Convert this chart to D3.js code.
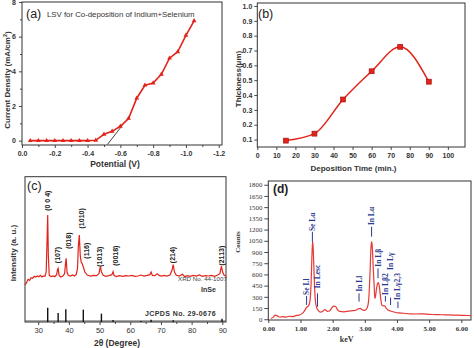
<!DOCTYPE html>
<html>
<head>
<meta charset="utf-8">
<script src="https://d3js.org/d3.v7.min.js"></script>
<style>
  body { margin: 0; background: #fff; }
  svg { display: block; font-family: "Liberation Sans", Arial, sans-serif; }
</style>
</head>
<body>
<div id="chart"></div>
<script>
// (a) linear sweep voltammetry
const lsvPotential = [-0.05, -0.1, -0.15, -0.2, -0.25, -0.3, -0.35, -0.4, -0.45, -0.5, -0.55,
  -0.6, -0.65, -0.7, -0.75, -0.8, -0.85, -0.9, -0.95, -1.0, -1.05];
const lsvCurrent = [0, 0, 0, 0, 0, 0, 0, 0, 0.02, 0.37, 0.54,
  0.83, 1.28, 2.45, 3.2, 3.32, 3.83, 4.76, 5.13, 6.08, 6.91];
const onsetPotential = [-0.522, -0.612];
const onsetCurrent = [-0.21, 0.88];
const potentialTicks = [0, -0.2, -0.4, -0.6, -0.8, -1.0, -1.2];
const currentTicks = [0, 2, 4, 6, 8];

// (b) film thickness vs deposition time
const depTime = [15, 30, 45, 60, 75, 90];
const thickness = [0.093, 0.14, 0.37, 0.56, 0.725, 0.49];
const timeTicks = [0, 10, 20, 30, 40, 50, 60, 70, 80, 90, 100];
const thicknessTicks = [0.1, 0.2, 0.3, 0.4, 0.5, 0.6, 0.7, 0.8, 0.9, 1.0];

// (c) XRD pattern
const xrdAngle = [25.7, 26.2, 26.7, 27.2, 27.7, 28.2, 28.7, 29.2, 29.7, 30.2, 30.7, 31.2, 31.7, 32.2,
  32.6, 32.9, 33.1, 33.3, 33.6, 34.2, 34.8, 35.4, 36.0, 36.3, 36.5, 36.8, 37.4, 38.0, 38.6, 38.9,
  39.1, 39.4, 39.8, 40.5, 41.2, 41.8, 42.4, 42.8, 43.1, 43.4, 43.7, 44.0, 44.3, 44.7, 45.2, 46.0,
  47.0, 48.0, 49.0, 49.8, 50.1, 50.3, 50.6, 51.2, 52.0, 53.0, 54.0, 54.4, 54.7, 55.5, 56.5, 57.5,
  58.5, 59.5, 60.5, 61.5, 62.5, 63.5, 64.5, 65.5, 66.4, 66.8, 67.2, 68.0, 68.8, 69.4, 70.2, 71.0,
  72.0, 73.0, 73.6, 74.0, 74.4, 75.0, 76.0, 77.0, 77.8, 78.5, 79.5, 80.5, 81.5, 82.5, 83.5, 84.5,
  85.5, 86.5, 87.5, 88.5, 89.2, 89.7, 90.1, 90.6, 91.2];
const xrdIntensity = [111, 118, 128, 125, 133, 131, 137, 135, 138, 136, 140, 135, 138, 137,
  150, 250, 321, 200, 140, 136, 138, 136, 142, 158, 161, 140, 135, 138, 145, 175,
  191, 150, 140, 138, 141, 138, 143, 160, 230, 261, 200, 180, 176, 165, 150, 141,
  138, 140, 139, 145, 160, 166, 150, 140, 137, 139, 142, 151, 140, 136, 139, 137,
  139, 138, 140, 137, 138, 141, 138, 140, 142, 150, 140, 139, 145, 140, 138, 140,
  138, 142, 155, 172, 150, 140, 138, 143, 136, 139, 137, 140, 138, 141, 137, 139,
  138, 140, 137, 141, 145, 168, 150, 140, 138];
const refAngle = [33.1, 36.5, 39.0, 44.7, 50.6, 54.4, 63.5, 66.8, 74.0, 89.9];
const refHeight = [43, 27, 38, 37, 25, 6, 3, 7, 5, 10];
const hklLabels = ["(0 0 4)", "(107)", "(018)", "(1010)", "(116)", "(1013)", "(0018)", "(214)", "(2113)"];
const hklAngle = [32.9, 36.3, 39.8, 44.1, 45.6, 50.1, 55.2, 73.8, 89.6];
const hklLevel = [364, 201, 244, 311, 214, 196, 199, 201, 199];
const angleTicks = [30, 40, 50, 60, 70, 80, 90];

// (d) EDS spectrum
const edsEnergy = [0.08, 0.15, 0.22, 0.28, 0.35, 0.45, 0.55, 0.65, 0.75, 0.85, 0.95, 1.05, 1.12,
  1.19, 1.24, 1.29, 1.33, 1.36, 1.38, 1.40, 1.43, 1.46, 1.50, 1.55, 1.62, 1.70, 1.76, 1.83, 1.90,
  1.97, 2.03, 2.09, 2.15, 2.22, 2.35, 2.50, 2.62, 2.72, 2.80, 2.86, 2.92, 3.00, 3.07, 3.12, 3.16,
  3.19, 3.21, 3.23, 3.26, 3.29, 3.31, 3.33, 3.36, 3.39, 3.42, 3.45, 3.49, 3.53, 3.57, 3.62, 3.66,
  3.72, 3.80, 3.88, 3.96, 4.05, 4.2, 4.4, 4.6, 4.8, 5.0, 5.2, 5.4, 5.6, 5.8, 6.0, 6.2, 6.3];
const edsCounts = [10, 25, 55, 45, 30, 35, 28, 40, 35, 48, 55, 75, 110,
  160, 175, 230, 480, 900, 1050, 900, 520, 260, 160, 120, 95, 110, 130, 105, 110,
  150, 175, 170, 130, 105, 100, 110, 115, 120, 140, 145, 125, 120, 150, 260, 600,
  950, 1040, 980, 700, 450, 280, 300, 400, 470, 490, 440, 290, 190, 180, 178, 150,
  125, 110, 100, 90, 85, 80, 72, 70, 72, 65, 63, 60, 58, 55, 52, 50, 48];
const lineNames = ["Se Ll", "Se Lα", "In Lesc", "In Ll", "In Lα", "In Lβ", "In Lβ2", "In Lγ", "In Lγ2,3"];
const lineEnergy = [1.19, 1.37, 1.53, 2.82, 3.21, 3.41, 3.64, 3.80, 4.03];
const lineTickLow = [192, 1040, 169, 236, 1105, 548, 236, 190, 150];
const lineTickHigh = [312, 1170, 347, 347, 1238, 681, 312, 290, 236];
const lineTextLevel = [325, 1180, 414, 370, 1260, 704, 325, 660, 258];
const countTicks = [0, 150, 300, 450, 600, 750, 900, 1050, 1200, 1350, 1500, 1650, 1800];
const energyTicks = [0, 1, 2, 3, 4, 5, 6];

const RED = "#e2231a";
const svg = d3.select("#chart").append("svg").attr("width", 474).attr("height", 348);

function styleAxis(g, size, weight, family) {
  g.select(".domain").remove();
  g.selectAll("line").attr("stroke", "#333").attr("stroke-width", 0.9);
  g.selectAll("text").attr("font-size", size).attr("font-weight", weight)
    .attr("fill", "#333").attr("font-family", family || null);
}

function box(x, y) {
  svg.append("rect")
    .attr("x", x.range()[0]).attr("y", y.range()[1])
    .attr("width", x.range()[1] - x.range()[0])
    .attr("height", y.range()[0] - y.range()[1])
    .attr("fill", "none").attr("stroke", "#333").attr("stroke-width", 1);
}

// ---------- (a) ----------
{
  const x = d3.scaleLinear().domain([0, -1.22]).range([22, 222]);
  const y = d3.scaleLinear().domain([-0.25, 8]).range([145, 2]);

  svg.append("g").attr("transform", "translate(0,145)")
    .call(d3.axisBottom(x).tickValues(potentialTicks).tickSize(3).tickPadding(3).tickFormat(d => d.toFixed(1)))
    .call(g => styleAxis(g, 7, "bold"));
  svg.append("g").attr("transform", "translate(0,145)")
    .call(d3.axisBottom(x).tickValues([-0.1, -0.3, -0.5, -0.7, -0.9, -1.1]).tickSize(2).tickFormat(""))
    .call(g => styleAxis(g, 7, "bold"));
  svg.append("g").attr("transform", "translate(22,0)")
    .call(d3.axisLeft(y).tickValues(currentTicks).tickSize(3).tickPadding(3))
    .call(g => styleAxis(g, 7, "bold"));
  svg.append("g").attr("transform", "translate(22,0)")
    .call(d3.axisLeft(y).tickValues([1, 3, 5, 7]).tickSize(2).tickFormat(""))
    .call(g => styleAxis(g, 7, "bold"));
  box(x, y);

  svg.append("line")
    .attr("x1", x(onsetPotential[0])).attr("y1", y(onsetCurrent[0]))
    .attr("x2", x(onsetPotential[1])).attr("y2", y(onsetCurrent[1]))
    .attr("stroke", "#111").attr("stroke-width", 0.8);

  const pts = lsvPotential.map((p, i) => [p, lsvCurrent[i]]);
  svg.append("path").datum(pts)
    .attr("fill", "none").attr("stroke", RED).attr("stroke-width", 1.6)
    .attr("d", d3.line().x(d => x(d[0])).y(d => y(d[1])));
  svg.selectAll(".lsv-pt").data(pts).enter().append("path")
    .attr("class", "lsv-pt")
    .attr("transform", d => `translate(${x(d[0])},${y(d[1])})`)
    .attr("d", d3.symbol(d3.symbolTriangle, 10))
    .attr("fill", RED);

  svg.append("text").attr("x", 26).attr("y", 18).attr("font-size", 12.5).attr("fill", "#222").text("(a)");
  svg.append("text").attr("x", 47).attr("y", 16.5).attr("font-size", 7.8).attr("fill", "#333")
    .text("LSV for Co-deposition of Indium+Selenium");
  svg.append("text").attr("x", 115).attr("y", 167).attr("text-anchor", "middle")
    .attr("font-size", 8.5).attr("font-weight", "bold").attr("fill", "#333").text("Potential (V)");
  const yl = svg.append("text").attr("transform", "translate(9.5,80) rotate(-90)")
    .attr("text-anchor", "middle").attr("font-size", 8).attr("font-weight", "bold").attr("fill", "#333");
  yl.append("tspan").text("Current Density (mA/cm");
  yl.append("tspan").attr("font-size", 5.5).attr("dy", -3).text("2");
  yl.append("tspan").attr("dy", 3).text(")");
}

// ---------- (b) ----------
{
  const x = d3.scaleLinear().domain([0, 109]).range([257.3, 465]);
  const y = d3.scaleLinear().domain([0.05, 1.02]).range([147, 3]);

  svg.append("g").attr("transform", "translate(0,147)")
    .call(d3.axisBottom(x).tickValues(timeTicks).tickSize(3).tickPadding(3))
    .call(g => styleAxis(g, 7, "bold"));
  svg.append("g").attr("transform", "translate(257.3,0)")
    .call(d3.axisLeft(y).tickValues(thicknessTicks).tickSize(3).tickPadding(2).tickFormat(d3.format(".1f")))
    .call(g => styleAxis(g, 7, "bold"));
  box(x, y);

  const pts = depTime.map((t, i) => [t, thickness[i]]);
  svg.append("path").datum(pts)
    .attr("fill", "none").attr("stroke", RED).attr("stroke-width", 1.5)
    .attr("d", d3.line().x(d => x(d[0])).y(d => y(d[1])).curve(d3.curveMonotoneX));
  svg.selectAll(".thk-pt").data(pts).enter().append("rect")
    .attr("class", "thk-pt")
    .attr("x", d => x(d[0]) - 2.5).attr("y", d => y(d[1]) - 2.5)
    .attr("width", 5).attr("height", 5)
    .attr("fill", RED).attr("stroke", "#a01010").attr("stroke-width", 0.6);

  svg.append("text").attr("x", 258).attr("y", 18).attr("font-size", 12.5).attr("fill", "#222").text("(b)");
  svg.append("text").attr("x", 353.5).attr("y", 171).attr("text-anchor", "middle")
    .attr("font-size", 8).attr("font-weight", "bold").attr("fill", "#333").text("Deposition Time (min.)");
  svg.append("text").attr("transform", "translate(241,79) rotate(-90)")
    .attr("text-anchor", "middle").attr("font-size", 8).attr("font-weight", "bold").attr("fill", "#333")
    .text("Thickness(μm)");
}

// ---------- (c) ----------
{
  const x = d3.scaleLinear().domain([25.7, 91.2]).range([25, 226]);
  const y = d3.scaleLinear().domain([0, 436]).range([322, 176.7]);

  svg.append("g").attr("transform", "translate(0,322)")
    .call(d3.axisBottom(x).tickValues(angleTicks).tickSize(3).tickPadding(3))
    .call(g => styleAxis(g, 7.5, "normal"));
  svg.append("g").attr("transform", "translate(0,322)")
    .call(d3.axisBottom(x).tickValues([35, 45, 55, 65, 75, 85]).tickSize(2).tickFormat(""))
    .call(g => styleAxis(g, 7.5, "normal"));
  box(x, y);
  svg.append("line").attr("x1", 25).attr("x2", 226).attr("y1", 321).attr("y2", 321)
    .attr("stroke", "#555").attr("stroke-width", 1.2);

  svg.selectAll(".ref-stick").data(refAngle).enter().append("line")
    .attr("class", "ref-stick")
    .attr("x1", d => x(d)).attr("x2", d => x(d))
    .attr("y1", y(0)).attr("y2", (d, i) => y(refHeight[i]))
    .attr("stroke", "#111").attr("stroke-width", 1.4);

  const pts = xrdAngle.map((a, i) => [a, xrdIntensity[i]]);
  svg.append("path").datum(pts)
    .attr("fill", "none").attr("stroke", RED).attr("stroke-width", 1.2)
    .attr("d", d3.line().x(d => x(d[0])).y(d => y(d[1])));

  svg.selectAll(".hkl").data(hklLabels).enter().append("text")
    .attr("class", "hkl")
    .attr("transform", (d, i) => `translate(${x(hklAngle[i]) + 2.5},${y(hklLevel[i])}) rotate(-90)`)
    .attr("text-anchor", "middle").attr("font-size", 7).attr("font-weight", "bold").attr("fill", "#222")
    .text(d => d);

  svg.append("text").attr("x", 178).attr("y", 281).attr("font-size", 6.2).attr("fill", "#444")
    .text("XRD No. 44-1007");
  svg.append("text").attr("x", 201).attr("y", 292).attr("font-size", 7).attr("font-weight", "bold")
    .attr("fill", "#333").text("InSe");
  svg.append("text").attr("x", 145).attr("y", 315.5).attr("font-size", 7).attr("font-weight", "bold")
    .attr("letter-spacing", 0.4).attr("fill", "#333").text("JCPDS No. 29-0676");

  svg.append("text").attr("x", 27).attr("y", 190).attr("font-size", 12.5).attr("fill", "#222").text("(c)");
  svg.append("text").attr("x", 117).attr("y", 346).attr("text-anchor", "middle")
    .attr("font-size", 8.5).attr("font-weight", "bold").attr("fill", "#333").text("2θ (Degree)");
  svg.append("text").attr("transform", "translate(16,253) rotate(-90)")
    .attr("text-anchor", "middle").attr("font-size", 8).attr("font-weight", "bold").attr("fill", "#333")
    .text("Intensity (a. u.)");
}

// ---------- (d) ----------
{
  const serif = "'Liberation Serif', 'DejaVu Serif', serif";
  const x = d3.scaleLinear().domain([0, 6.3]).range([268.3, 471]);
  const y = d3.scaleLinear().domain([-10, 1850]).range([320, 181]);

  svg.append("g").attr("transform", "translate(0,320)")
    .call(d3.axisBottom(x).tickValues(energyTicks).tickSize(3).tickPadding(3).tickFormat(d3.format(".2f")))
    .call(g => styleAxis(g, 7, "bold", serif));
  svg.append("g").attr("transform", "translate(268.3,0)")
    .call(d3.axisLeft(y).tickValues(countTicks).tickSize(4).tickPadding(2).tickFormat(d3.format("d")))
    .call(g => styleAxis(g, 6.8, "normal", serif));
  box(x, y);

  const pts = edsEnergy.map((e, i) => [e, edsCounts[i]]);
  svg.append("path").datum(pts)
    .attr("fill", "none").attr("stroke", "#e53935").attr("stroke-width", 1.2)
    .attr("d", d3.line().x(d => x(d[0])).y(d => y(d[1])).curve(d3.curveMonotoneX));

  const NAVY = "#2b3990";
  svg.selectAll(".eds-tick").data(lineEnergy).enter().append("line")
    .attr("class", "eds-tick")
    .attr("x1", d => x(d)).attr("x2", d => x(d))
    .attr("y1", (d, i) => y(lineTickLow[i])).attr("y2", (d, i) => y(lineTickHigh[i]))
    .attr("stroke", NAVY).attr("stroke-width", 1);
  svg.selectAll(".eds-name").data(lineNames).enter().append("text")
    .attr("class", "eds-name")
    .attr("transform", (d, i) => `translate(${x(lineEnergy[i]) + 2.5},${y(lineTextLevel[i])}) rotate(-90)`)
    .attr("font-family", serif).attr("font-size", 7.5).attr("font-weight", "bold").attr("fill", NAVY)
    .text(d => d);

  svg.append("text").attr("x", 273).attr("y", 193).attr("font-size", 12).attr("font-weight", "bold")
    .attr("fill", "#222").text("(d)");
  svg.append("text").attr("x", 346.7).attr("y", 342).attr("text-anchor", "middle")
    .attr("font-family", serif).attr("font-size", 8).attr("font-weight", "bold").attr("fill", "#333").text("keV");
  svg.append("text").attr("transform", "translate(240,242) rotate(-90)")
    .attr("text-anchor", "middle").attr("font-family", serif).attr("font-size", 7)
    .attr("font-weight", "bold").attr("fill", "#333").text("Counts");
}
</script>
</body>
</html>
